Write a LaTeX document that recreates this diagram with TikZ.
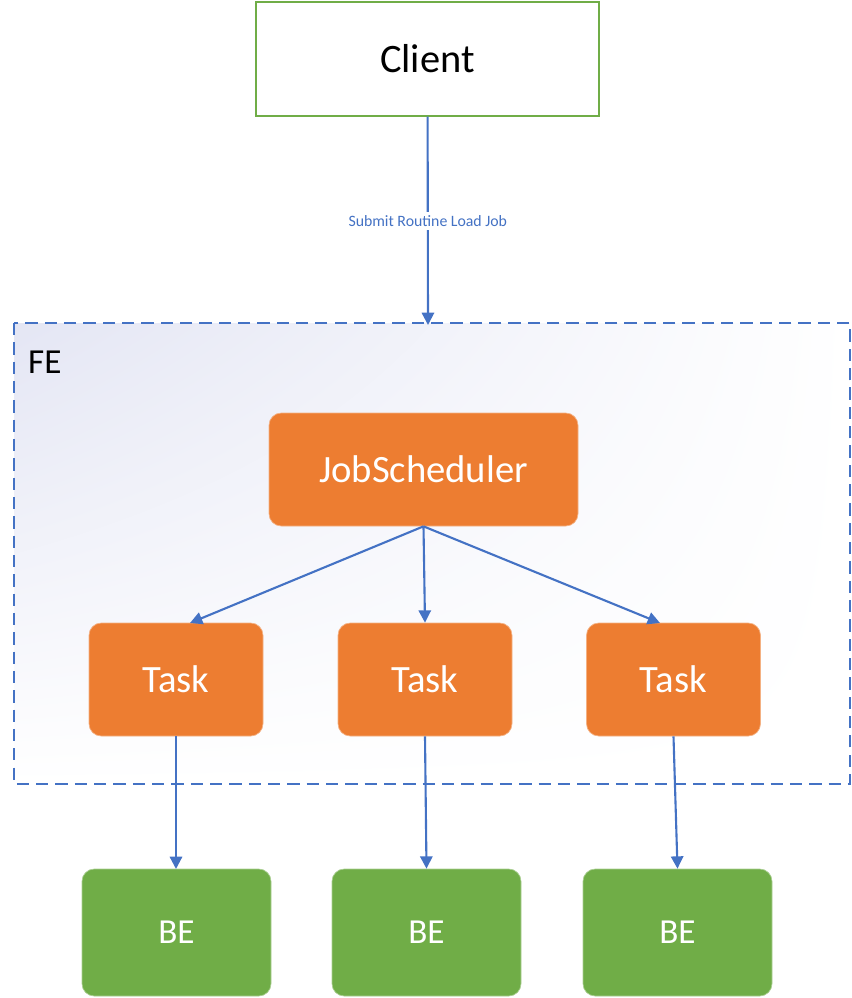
\documentclass[tikz,border=0pt]{standalone}
\usepackage{fontspec}
\setmainfont{Carlito}
\usetikzlibrary{arrows.meta,positioning,shadings}
\definecolor{orng}{HTML}{ED7D31}
\definecolor{grn}{HTML}{70AD47}
\definecolor{blu}{HTML}{4472C4}
\definecolor{lav}{HTML}{E4E6F4}
\begin{document}
\begin{tikzpicture}[x=0.02cm,y=-0.02cm,
    box/.style={rounded corners=7pt, draw=#1!60!white, fill=#1, text=white, font=\fontsize{22}{26}\selectfont},
    arr/.style={blu, line width=1.2pt, -{Triangle[length=7pt,width=7pt]}}]
  \useasboundingbox (0,0) rectangle (852,998);
  %%%%%%%%%%%%%%%%%%%%%%%% Client %%%%%%%%%%%%%%%%%%%%%%%%
  \node[draw=grn, line width=0.8pt, minimum width=343*0.02cm, minimum height=114*0.02cm,
        font=\fontsize{23}{27}\selectfont] (client) at (427.5,59) {Client};
  %%%%%%%%%%%%%%%%%%%%%%%% FE %%%%%%%%%%%%%%%%%%%%%%%%
  \shade[upper left=lav, lower right=white, upper right=white, lower left=white] (14,323) rectangle (850,784);
  \draw[blu, line width=1pt, dash pattern=on 7pt off 4pt] (14,323) rectangle (850,784);
  \node[anchor=west, font=\fontsize{20}{24}\selectfont] (fe) at (22,362) {FE};
  \coordinate (fetop) at (428,325);
  \node[box=orng, minimum width=309*0.02cm, minimum height=113*0.02cm] (js) at (423.5,469.5) {JobScheduler};
  \foreach \n/\x in {1/176, 2/425, 3/673.5} {
    \node[box=orng, minimum width=174*0.02cm, minimum height=113*0.02cm] (task\n) at (\x,679.5) {Task};
  }
  \foreach \n/\x in {1/176.5, 2/426.5, 3/677.5} {
    \node[box=grn, font=\fontsize{20}{24}\selectfont, minimum width=189*0.02cm, minimum height=127*0.02cm] (be\n) at (\x,932.5) {BE};
  }
  \coordinate (in1) at (190,623);
  \coordinate (in3) at (660,623);
  \coordinate (out1) at (176,869);
  %%%%%%%%%%%%%%%%%%%%%%%% Connectors %%%%%%%%%%%%%%%%%%%%%%%%
  \draw[arr] (client) -- node[fill=white, text=blu, font=\fontsize{9}{11}\selectfont, inner sep=2pt] {Submit Routine Load Job} (fetop);
  \draw[arr] (js.south) -- (in1);
  \draw[arr] (js.south) -- (task2.north);
  \draw[arr] (js.south) -- (in3);
  \draw[arr] (task1.south) -- (out1);
  \draw[arr] (task2.south) -- (be2.north);
  \draw[arr] (task3.south) -- (be3.north);
\end{tikzpicture}
\end{document}
